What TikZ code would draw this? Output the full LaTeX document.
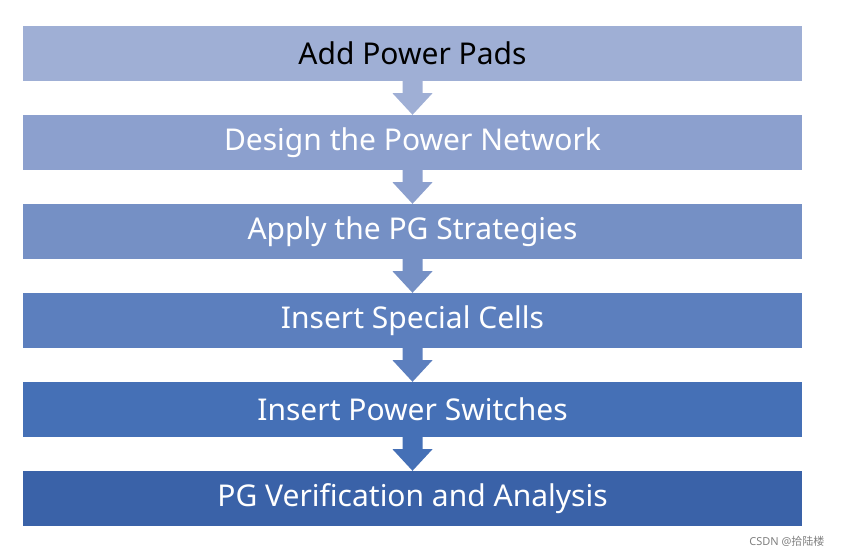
\documentclass[tikz,border=0pt]{standalone}
\usepackage{fontspec}
\setmainfont{Noto Sans}
\newfontfamily\cjk{Noto Sans CJK SC}
\begin{document}
\begin{tikzpicture}[x=1pt,y=-1pt,
  box/.style={draw=none,minimum width=779pt,minimum height=55pt,inner sep=0pt,font=\fontsize{30}{36}\selectfont,text=white},
  arr/.style={draw=none}]
\useasboundingbox (0,0) rectangle (842,559);
\definecolor{c1}{HTML}{9FAFD5}
\definecolor{c2}{HTML}{8CA0CE}
\definecolor{c3}{HTML}{7590C5}
\definecolor{c4}{HTML}{5C7FBE}
\definecolor{c5}{HTML}{4570B6}
\definecolor{c6}{HTML}{3A62A8}
\node[box,fill=c1,text=black] (b1) at (412.5,53.5) {Add Power Pads};
\node[box,fill=c2] (b2) at (412.5,142.5) {Design the Power Network};
\node[box,fill=c3] (b3) at (412.5,231.5) {Apply the PG Strategies};
\node[box,fill=c4] (b4) at (412.5,320.5) {Insert Special Cells};
\node[box,fill=c5] (b5) at (412.5,409.5) {Insert Power Switches};
\node[box,fill=c6] (b6) at (412.5,498.5) {PG Verification and Analysis};
\foreach \a/\b/\c in {b1/b2/c1,b2/b3/c2,b3/b4/c3,b4/b5/c4,b5/b6/c5}{
  \fill[\c] ([xshift=-10pt]\a.south) -- ([xshift=10pt]\a.south) -- ([xshift=10pt,yshift=-12pt]\a.south)
   -- ([xshift=20pt,yshift=-12pt]\a.south) -- (\b.north) -- ([xshift=-20pt,yshift=-12pt]\a.south)
   -- ([xshift=-10pt,yshift=-12pt]\a.south) -- cycle;
}
\node[anchor=east,text=gray,font=\fontsize{11}{13}\selectfont] (w) at (828,541) {CSDN @{\cjk 拾陆楼}};
\end{tikzpicture}
\end{document}
